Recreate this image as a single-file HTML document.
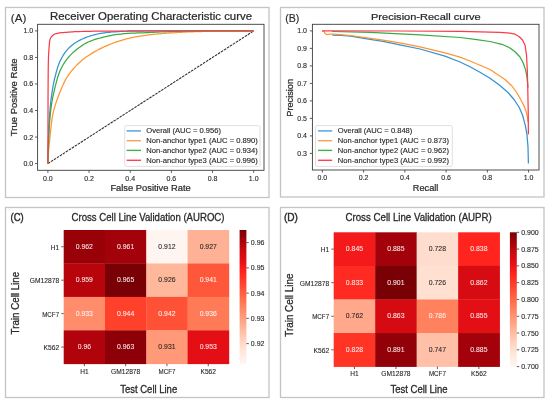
<!DOCTYPE html>
<html><head><meta charset="utf-8"><style>
html,body{margin:0;padding:0;background:#fff;}
body{width:550px;height:403px;overflow:hidden;}
svg{display:block;font-family:"Liberation Sans", sans-serif;will-change:transform;}
#w{width:550px;height:403px;}
</style></head><body><div id="w">
<svg width="550" height="403" viewBox="0 0 550 403">
<rect x="0" y="0" width="550" height="403" fill="#ffffff"/>
<rect x="5.50" y="7.50" width="263.50" height="190.00" fill="none" stroke="#c4c4c4" stroke-width="1.3" />
<rect x="280.50" y="7.50" width="263.50" height="189.50" fill="none" stroke="#c4c4c4" stroke-width="1.3" />
<rect x="5.50" y="207.50" width="263.50" height="190.00" fill="none" stroke="#c4c4c4" stroke-width="1.3" />
<rect x="280.50" y="207.50" width="263.50" height="190.00" fill="none" stroke="#c4c4c4" stroke-width="1.3" />
<text x="10.80" y="21.90" font-size="11.6" fill="#2a2a2a" text-anchor="start" stroke="#2a2a2a" stroke-width="0.15" >(A)</text>
<text x="50.00" y="19.90" font-size="10.2" fill="#2a2a2a" text-anchor="start" stroke="#2a2a2a" stroke-width="0.22" textLength="202.00" lengthAdjust="spacingAndGlyphs" >Receiver Operating Characteristic curve</text>
<line x1="35.00" y1="163.60" x2="37.60" y2="163.60" stroke="#333" stroke-width="0.8" />
<text x="33.20" y="166.10" font-size="7" fill="#2a2a2a" text-anchor="end" stroke="#2a2a2a" stroke-width="0.12" >0.0</text>
<line x1="47.90" y1="170.30" x2="47.90" y2="172.90" stroke="#333" stroke-width="0.8" />
<text x="47.90" y="180.60" font-size="7" fill="#2a2a2a" text-anchor="middle" stroke="#2a2a2a" stroke-width="0.12" >0.0</text>
<line x1="35.00" y1="137.06" x2="37.60" y2="137.06" stroke="#333" stroke-width="0.8" />
<text x="33.20" y="139.56" font-size="7" fill="#2a2a2a" text-anchor="end" stroke="#2a2a2a" stroke-width="0.12" >0.2</text>
<line x1="89.06" y1="170.30" x2="89.06" y2="172.90" stroke="#333" stroke-width="0.8" />
<text x="89.06" y="180.60" font-size="7" fill="#2a2a2a" text-anchor="middle" stroke="#2a2a2a" stroke-width="0.12" >0.2</text>
<line x1="35.00" y1="110.52" x2="37.60" y2="110.52" stroke="#333" stroke-width="0.8" />
<text x="33.20" y="113.02" font-size="7" fill="#2a2a2a" text-anchor="end" stroke="#2a2a2a" stroke-width="0.12" >0.4</text>
<line x1="130.22" y1="170.30" x2="130.22" y2="172.90" stroke="#333" stroke-width="0.8" />
<text x="130.22" y="180.60" font-size="7" fill="#2a2a2a" text-anchor="middle" stroke="#2a2a2a" stroke-width="0.12" >0.4</text>
<line x1="35.00" y1="83.98" x2="37.60" y2="83.98" stroke="#333" stroke-width="0.8" />
<text x="33.20" y="86.48" font-size="7" fill="#2a2a2a" text-anchor="end" stroke="#2a2a2a" stroke-width="0.12" >0.6</text>
<line x1="171.38" y1="170.30" x2="171.38" y2="172.90" stroke="#333" stroke-width="0.8" />
<text x="171.38" y="180.60" font-size="7" fill="#2a2a2a" text-anchor="middle" stroke="#2a2a2a" stroke-width="0.12" >0.6</text>
<line x1="35.00" y1="57.44" x2="37.60" y2="57.44" stroke="#333" stroke-width="0.8" />
<text x="33.20" y="59.94" font-size="7" fill="#2a2a2a" text-anchor="end" stroke="#2a2a2a" stroke-width="0.12" >0.8</text>
<line x1="212.54" y1="170.30" x2="212.54" y2="172.90" stroke="#333" stroke-width="0.8" />
<text x="212.54" y="180.60" font-size="7" fill="#2a2a2a" text-anchor="middle" stroke="#2a2a2a" stroke-width="0.12" >0.8</text>
<line x1="35.00" y1="30.90" x2="37.60" y2="30.90" stroke="#333" stroke-width="0.8" />
<text x="33.20" y="33.40" font-size="7" fill="#2a2a2a" text-anchor="end" stroke="#2a2a2a" stroke-width="0.12" >1.0</text>
<line x1="253.70" y1="170.30" x2="253.70" y2="172.90" stroke="#333" stroke-width="0.8" />
<text x="253.70" y="180.60" font-size="7" fill="#2a2a2a" text-anchor="middle" stroke="#2a2a2a" stroke-width="0.12" >1.0</text>
<text x="17.20" y="97.30" font-size="8.4" fill="#2a2a2a" text-anchor="middle" stroke="#2a2a2a" stroke-width="0.22" textLength="77.80" lengthAdjust="spacingAndGlyphs" transform="rotate(-90 17.20 97.30)" >True Positive Rate</text>
<text x="150.60" y="191.00" font-size="8.9" fill="#2a2a2a" text-anchor="middle" stroke="#2a2a2a" stroke-width="0.22" textLength="80.40" lengthAdjust="spacingAndGlyphs" >False Positive Rate</text>
<line x1="47.90" y1="163.60" x2="253.70" y2="30.90" stroke="#2a2a2a" stroke-width="1.05" stroke-dasharray="2.6 0.95"/>
<path d="M47.90,163.60 L48.03,157.07 L48.16,150.77 L48.29,144.99 L48.42,140.03 L48.55,136.15 L48.68,132.79 L48.81,129.67 L48.94,126.77 L49.07,124.09 L49.20,121.60 L49.33,119.29 L49.46,117.15 L49.59,115.17 L49.72,113.34 L49.85,111.63 L49.98,110.03 L50.11,108.53 L50.24,107.10 L50.37,105.73 L50.51,104.41 L50.64,103.16 L50.77,101.96 L50.90,100.81 L51.03,99.70 L51.16,98.64 L51.29,97.62 L51.42,96.63 L51.55,95.68 L51.68,94.76 L51.81,93.87 L51.94,93.00 L52.07,92.15 L52.20,91.31 L52.33,90.49 L52.46,89.68 L52.59,88.89 L52.72,88.12 L52.85,87.37 L52.98,86.63 L53.11,85.91 L53.24,85.20 L53.37,84.52 L53.50,83.85 L53.63,83.19 L53.76,82.55 L53.89,81.92 L54.02,81.31 L54.15,80.71 L54.28,80.12 L54.41,79.55 L54.54,78.98 L54.67,78.43 L54.80,77.89 L54.93,77.36 L55.06,76.84 L55.19,76.32 L55.32,75.81 L55.45,75.31 L55.58,74.80 L55.72,74.30 L55.85,73.81 L55.98,73.32 L56.11,72.83 L56.24,72.35 L56.37,71.87 L56.50,71.39 L56.63,70.93 L56.76,70.46 L56.89,70.01 L57.02,69.55 L57.15,69.11 L57.28,68.67 L57.41,68.23 L57.54,67.80 L57.67,67.38 L57.80,66.97 L57.93,66.56 L58.06,66.16 L58.19,65.77 L58.19,65.77 L59.83,61.51 L61.48,58.29 L63.12,55.45 L64.76,52.96 L66.40,50.79 L68.05,48.90 L69.69,47.25 L71.33,45.79 L72.98,44.49 L74.62,43.32 L76.26,42.26 L77.91,41.30 L79.55,40.40 L81.19,39.56 L82.83,38.78 L84.48,38.05 L86.12,37.38 L87.76,36.78 L89.41,36.23 L91.05,35.72 L92.69,35.23 L94.33,34.78 L95.98,34.37 L97.62,34.00 L99.26,33.67 L100.91,33.40 L102.55,33.15 L104.19,32.91 L105.84,32.69 L107.48,32.49 L109.12,32.30 L110.76,32.14 L112.41,31.99 L114.05,31.86 L115.69,31.76 L117.34,31.65 L118.98,31.56 L120.62,31.46 L122.26,31.38 L123.91,31.31 L125.55,31.25 L127.19,31.20 L128.84,31.17 L130.48,31.15 L132.12,31.13 L133.77,31.11 L135.41,31.09 L137.05,31.08 L138.69,31.06 L140.34,31.04 L141.98,31.03 L143.62,31.01 L145.27,31.00 L146.91,30.99 L148.55,30.98 L150.19,30.97 L151.84,30.96 L153.48,30.95 L155.12,30.94 L156.77,30.93 L158.41,30.93 L160.05,30.92 L161.70,30.91 L163.34,30.91 L164.98,30.91 L166.62,30.90 L168.27,30.90 L169.91,30.90 L171.55,30.90 L173.20,30.90 L174.84,30.90 L176.48,30.90 L178.12,30.90 L179.77,30.90 L181.41,30.90 L183.05,30.90 L184.70,30.90 L186.34,30.90 L187.98,30.90 L189.63,30.90 L191.27,30.90 L192.91,30.90 L194.55,30.90 L196.20,30.90 L197.84,30.90 L199.48,30.90 L201.13,30.90 L202.77,30.90 L204.41,30.90 L206.05,30.90 L207.70,30.90 L209.34,30.90 L210.98,30.90 L212.63,30.90 L214.27,30.90 L215.91,30.90 L217.56,30.90 L219.20,30.90 L220.84,30.90 L222.48,30.90 L224.13,30.90 L225.77,30.90 L227.41,30.90 L229.06,30.90 L230.70,30.90 L232.34,30.90 L233.98,30.90 L235.63,30.90 L237.27,30.90 L238.91,30.90 L240.56,30.90 L242.20,30.90 L243.84,30.90 L245.49,30.90 L247.13,30.90 L248.77,30.90 L250.41,30.90 L252.06,30.90 L253.70,30.90" fill="none" stroke="#3592cf" stroke-width="1.25" stroke-linejoin="round" stroke-linecap="butt" />
<path d="M47.90,163.60 L48.03,160.74 L48.16,158.02 L48.29,155.51 L48.42,153.24 L48.55,151.25 L48.68,149.58 L48.81,148.16 L48.94,146.90 L49.07,145.75 L49.20,144.65 L49.33,143.55 L49.46,142.37 L49.59,141.10 L49.72,139.78 L49.85,138.43 L49.98,137.06 L50.11,135.69 L50.24,134.33 L50.37,132.99 L50.51,131.69 L50.64,130.43 L50.77,129.24 L50.90,128.09 L51.03,126.94 L51.16,125.82 L51.29,124.71 L51.42,123.62 L51.55,122.57 L51.68,121.55 L51.81,120.58 L51.94,119.65 L52.07,118.77 L52.20,117.96 L52.33,117.20 L52.46,116.46 L52.59,115.75 L52.72,115.07 L52.85,114.41 L52.98,113.78 L53.11,113.17 L53.24,112.58 L53.37,112.01 L53.50,111.46 L53.63,110.93 L53.76,110.42 L53.89,109.92 L54.02,109.44 L54.15,108.96 L54.28,108.49 L54.41,108.02 L54.54,107.56 L54.67,107.11 L54.80,106.66 L54.93,106.22 L55.06,105.78 L55.19,105.35 L55.32,104.93 L55.45,104.51 L55.58,104.10 L55.72,103.69 L55.85,103.28 L55.98,102.88 L56.11,102.49 L56.24,102.10 L56.37,101.71 L56.50,101.33 L56.63,100.95 L56.76,100.58 L56.89,100.21 L57.02,99.84 L57.15,99.48 L57.28,99.12 L57.41,98.76 L57.54,98.41 L57.67,98.06 L57.80,97.71 L57.93,97.36 L58.06,97.02 L58.19,96.68 L58.19,96.68 L59.83,92.54 L61.48,88.51 L63.12,84.62 L64.76,81.14 L66.40,78.25 L68.05,75.68 L69.69,73.35 L71.33,71.22 L72.98,69.24 L74.62,67.37 L76.26,65.61 L77.91,63.96 L79.55,62.42 L81.19,60.96 L82.83,59.59 L84.48,58.30 L86.12,57.10 L87.76,55.98 L89.41,54.90 L91.05,53.86 L92.69,52.85 L94.33,51.87 L95.98,50.93 L97.62,50.02 L99.26,49.17 L100.91,48.35 L102.55,47.57 L104.19,46.80 L105.84,46.06 L107.48,45.35 L109.12,44.66 L110.76,44.00 L112.41,43.37 L114.05,42.77 L115.69,42.19 L117.34,41.63 L118.98,41.08 L120.62,40.55 L122.26,40.05 L123.91,39.56 L125.55,39.11 L127.19,38.68 L128.84,38.28 L130.48,37.91 L132.12,37.55 L133.77,37.22 L135.41,36.89 L137.05,36.59 L138.69,36.30 L140.34,36.03 L141.98,35.78 L143.62,35.54 L145.27,35.32 L146.91,35.12 L148.55,34.93 L150.19,34.74 L151.84,34.57 L153.48,34.40 L155.12,34.24 L156.77,34.09 L158.41,33.93 L160.05,33.78 L161.70,33.64 L163.34,33.50 L164.98,33.36 L166.62,33.23 L168.27,33.10 L169.91,32.99 L171.55,32.88 L173.20,32.78 L174.84,32.67 L176.48,32.58 L178.12,32.48 L179.77,32.39 L181.41,32.30 L183.05,32.21 L184.70,32.13 L186.34,32.06 L187.98,31.98 L189.63,31.92 L191.27,31.85 L192.91,31.80 L194.55,31.74 L196.20,31.68 L197.84,31.62 L199.48,31.57 L201.13,31.51 L202.77,31.46 L204.41,31.41 L206.05,31.36 L207.70,31.32 L209.34,31.27 L210.98,31.23 L212.63,31.19 L214.27,31.16 L215.91,31.12 L217.56,31.09 L219.20,31.07 L220.84,31.05 L222.48,31.04 L224.13,31.02 L225.77,31.01 L227.41,31.00 L229.06,30.99 L230.70,30.98 L232.34,30.97 L233.98,30.96 L235.63,30.95 L237.27,30.94 L238.91,30.93 L240.56,30.93 L242.20,30.92 L243.84,30.92 L245.49,30.91 L247.13,30.91 L248.77,30.90 L250.41,30.90 L252.06,30.90 L253.70,30.90" fill="none" stroke="#ff9535" stroke-width="1.25" stroke-linejoin="round" stroke-linecap="butt" />
<path d="M47.90,163.60 L48.03,158.68 L48.16,153.84 L48.29,149.21 L48.42,144.92 L48.55,141.11 L48.68,137.93 L48.81,135.34 L48.94,132.91 L49.07,130.62 L49.20,128.45 L49.33,126.39 L49.46,124.46 L49.59,122.62 L49.72,120.90 L49.85,119.27 L49.98,117.73 L50.11,116.28 L50.24,114.91 L50.37,113.62 L50.51,112.40 L50.64,111.24 L50.77,110.15 L50.90,109.11 L51.03,108.10 L51.16,107.13 L51.29,106.19 L51.42,105.29 L51.55,104.41 L51.68,103.56 L51.81,102.74 L51.94,101.94 L52.07,101.17 L52.20,100.43 L52.33,99.70 L52.46,99.00 L52.59,98.31 L52.72,97.64 L52.85,96.99 L52.98,96.35 L53.11,95.73 L53.24,95.12 L53.37,94.52 L53.50,93.93 L53.63,93.35 L53.76,92.78 L53.89,92.21 L54.02,91.64 L54.15,91.08 L54.28,90.52 L54.41,89.96 L54.54,89.41 L54.67,88.85 L54.80,88.30 L54.93,87.76 L55.06,87.22 L55.19,86.68 L55.32,86.14 L55.45,85.62 L55.58,85.09 L55.72,84.57 L55.85,84.06 L55.98,83.55 L56.11,83.04 L56.24,82.54 L56.37,82.05 L56.50,81.56 L56.63,81.08 L56.76,80.60 L56.89,80.13 L57.02,79.66 L57.15,79.20 L57.28,78.75 L57.41,78.30 L57.54,77.86 L57.67,77.42 L57.80,76.99 L57.93,76.57 L58.06,76.15 L58.19,75.75 L58.19,75.75 L59.83,71.23 L61.48,67.72 L63.12,64.72 L64.76,62.13 L66.40,59.85 L68.05,57.78 L69.69,55.89 L71.33,54.17 L72.98,52.59 L74.62,51.15 L76.26,49.81 L77.91,48.54 L79.55,47.31 L81.19,46.14 L82.83,45.04 L84.48,44.02 L86.12,43.08 L87.76,42.24 L89.41,41.50 L91.05,40.84 L92.69,40.24 L94.33,39.69 L95.98,39.18 L97.62,38.70 L99.26,38.25 L100.91,37.82 L102.55,37.39 L104.19,36.98 L105.84,36.59 L107.48,36.21 L109.12,35.86 L110.76,35.53 L112.41,35.23 L114.05,34.96 L115.69,34.72 L117.34,34.49 L118.98,34.27 L120.62,34.07 L122.26,33.88 L123.91,33.70 L125.55,33.55 L127.19,33.42 L128.84,33.31 L130.48,33.22 L132.12,33.15 L133.77,33.09 L135.41,33.03 L137.05,32.98 L138.69,32.93 L140.34,32.87 L141.98,32.82 L143.62,32.76 L145.27,32.69 L146.91,32.61 L148.55,32.54 L150.19,32.46 L151.84,32.38 L153.48,32.30 L155.12,32.22 L156.77,32.14 L158.41,32.07 L160.05,32.00 L161.70,31.94 L163.34,31.88 L164.98,31.81 L166.62,31.75 L168.27,31.68 L169.91,31.62 L171.55,31.56 L173.20,31.49 L174.84,31.43 L176.48,31.37 L178.12,31.32 L179.77,31.27 L181.41,31.22 L183.05,31.17 L184.70,31.13 L186.34,31.10 L187.98,31.07 L189.63,31.05 L191.27,31.04 L192.91,31.03 L194.55,31.02 L196.20,31.01 L197.84,31.01 L199.48,31.00 L201.13,31.00 L202.77,30.99 L204.41,30.98 L206.05,30.98 L207.70,30.97 L209.34,30.97 L210.98,30.96 L212.63,30.96 L214.27,30.95 L215.91,30.95 L217.56,30.94 L219.20,30.94 L220.84,30.94 L222.48,30.93 L224.13,30.93 L225.77,30.93 L227.41,30.92 L229.06,30.92 L230.70,30.92 L232.34,30.92 L233.98,30.91 L235.63,30.91 L237.27,30.91 L238.91,30.91 L240.56,30.91 L242.20,30.90 L243.84,30.90 L245.49,30.90 L247.13,30.90 L248.77,30.90 L250.41,30.90 L252.06,30.90 L253.70,30.90" fill="none" stroke="#38ab42" stroke-width="1.25" stroke-linejoin="round" stroke-linecap="butt" />
<path d="M47.90,163.60 L48.03,101.55 L48.16,77.10 L48.29,65.28 L48.42,59.21 L48.55,55.75 L48.68,53.26 L48.81,51.32 L48.94,49.55 L49.07,47.79 L49.20,46.12 L49.33,44.56 L49.46,43.15 L49.59,41.94 L49.72,40.95 L49.85,40.23 L49.98,39.75 L50.11,39.32 L50.24,38.94 L50.37,38.61 L50.51,38.30 L50.64,38.03 L50.77,37.79 L50.90,37.57 L51.03,37.37 L51.16,37.18 L51.29,37.01 L51.42,36.85 L51.55,36.69 L51.68,36.54 L51.81,36.39 L51.94,36.24 L52.07,36.10 L52.20,35.96 L52.33,35.82 L52.46,35.69 L52.59,35.57 L52.72,35.44 L52.85,35.32 L52.98,35.21 L53.11,35.10 L53.24,34.99 L53.37,34.89 L53.50,34.79 L53.63,34.70 L53.76,34.61 L53.89,34.52 L54.02,34.44 L54.15,34.36 L54.28,34.29 L54.41,34.23 L54.54,34.16 L54.67,34.11 L54.80,34.05 L54.93,34.01 L55.06,33.96 L55.19,33.92 L55.32,33.89 L55.45,33.85 L55.58,33.81 L55.72,33.78 L55.85,33.74 L55.98,33.71 L56.11,33.67 L56.24,33.64 L56.37,33.61 L56.50,33.58 L56.63,33.54 L56.76,33.51 L56.89,33.48 L57.02,33.46 L57.15,33.43 L57.28,33.40 L57.41,33.37 L57.54,33.34 L57.67,33.32 L57.80,33.29 L57.93,33.27 L58.06,33.24 L58.19,33.22 L58.19,33.22 L59.83,32.95 L61.48,32.74 L63.12,32.57 L64.76,32.42 L66.40,32.27 L68.05,32.14 L69.69,32.02 L71.33,31.91 L72.98,31.81 L74.62,31.72 L76.26,31.65 L77.91,31.59 L79.55,31.54 L81.19,31.50 L82.83,31.45 L84.48,31.41 L86.12,31.37 L87.76,31.33 L89.41,31.29 L91.05,31.26 L92.69,31.22 L94.33,31.19 L95.98,31.16 L97.62,31.14 L99.26,31.12 L100.91,31.09 L102.55,31.08 L104.19,31.06 L105.84,31.05 L107.48,31.04 L109.12,31.03 L110.76,31.03 L112.41,31.03 L114.05,31.02 L115.69,31.02 L117.34,31.02 L118.98,31.01 L120.62,31.01 L122.26,31.01 L123.91,31.00 L125.55,31.00 L127.19,31.00 L128.84,30.99 L130.48,30.99 L132.12,30.99 L133.77,30.99 L135.41,30.98 L137.05,30.98 L138.69,30.98 L140.34,30.98 L141.98,30.97 L143.62,30.97 L145.27,30.97 L146.91,30.97 L148.55,30.96 L150.19,30.96 L151.84,30.96 L153.48,30.96 L155.12,30.96 L156.77,30.95 L158.41,30.95 L160.05,30.95 L161.70,30.95 L163.34,30.95 L164.98,30.94 L166.62,30.94 L168.27,30.94 L169.91,30.94 L171.55,30.94 L173.20,30.93 L174.84,30.93 L176.48,30.93 L178.12,30.93 L179.77,30.93 L181.41,30.93 L183.05,30.93 L184.70,30.92 L186.34,30.92 L187.98,30.92 L189.63,30.92 L191.27,30.92 L192.91,30.92 L194.55,30.92 L196.20,30.92 L197.84,30.92 L199.48,30.91 L201.13,30.91 L202.77,30.91 L204.41,30.91 L206.05,30.91 L207.70,30.91 L209.34,30.91 L210.98,30.91 L212.63,30.91 L214.27,30.91 L215.91,30.91 L217.56,30.91 L219.20,30.91 L220.84,30.91 L222.48,30.90 L224.13,30.90 L225.77,30.90 L227.41,30.90 L229.06,30.90 L230.70,30.90 L232.34,30.90 L233.98,30.90 L235.63,30.90 L237.27,30.90 L238.91,30.90 L240.56,30.90 L242.20,30.90 L243.84,30.90 L245.49,30.90 L247.13,30.90 L248.77,30.90 L250.41,30.90 L252.06,30.90 L253.70,30.90" fill="none" stroke="#fa3c4a" stroke-width="1.25" stroke-linejoin="round" stroke-linecap="butt" />
<rect x="37.60" y="24.30" width="226.40" height="146.00" fill="none" stroke="#3c3c3c" stroke-width="0.9" />
<rect x="124.70" y="125.60" width="135.30" height="40.80" fill="rgba(255,255,255,0.8)" stroke="#d8d8d8" stroke-width="0.8" rx="1.5"/>
<line x1="126.60" y1="130.90" x2="141.00" y2="130.90" stroke="#4a9fd5" stroke-width="1.4" />
<text x="146.30" y="133.30" font-size="6.6" fill="#2a2a2a" text-anchor="start" stroke="#2a2a2a" stroke-width="0.12" textLength="74.70" lengthAdjust="spacingAndGlyphs" >Overall (AUC = 0.956)</text>
<line x1="126.60" y1="140.70" x2="141.00" y2="140.70" stroke="#ffa050" stroke-width="1.4" />
<text x="146.30" y="143.10" font-size="6.6" fill="#2a2a2a" text-anchor="start" stroke="#2a2a2a" stroke-width="0.12" textLength="111.50" lengthAdjust="spacingAndGlyphs" >Non-anchor type1 (AUC = 0.890)</text>
<line x1="126.60" y1="150.40" x2="141.00" y2="150.40" stroke="#40b048" stroke-width="1.4" />
<text x="146.30" y="152.80" font-size="6.6" fill="#2a2a2a" text-anchor="start" stroke="#2a2a2a" stroke-width="0.12" textLength="111.50" lengthAdjust="spacingAndGlyphs" >Non-anchor type2 (AUC = 0.934)</text>
<line x1="126.60" y1="160.30" x2="141.00" y2="160.30" stroke="#ff4050" stroke-width="1.4" />
<text x="146.30" y="162.70" font-size="6.6" fill="#2a2a2a" text-anchor="start" stroke="#2a2a2a" stroke-width="0.12" textLength="111.50" lengthAdjust="spacingAndGlyphs" >Non-anchor type3 (AUC = 0.996)</text>
<text x="285.20" y="21.60" font-size="10.6" fill="#2a2a2a" text-anchor="start" stroke="#2a2a2a" stroke-width="0.15" >(B)</text>
<text x="371.00" y="20.00" font-size="9.6" fill="#2a2a2a" text-anchor="start" stroke="#2a2a2a" stroke-width="0.22" textLength="109.70" lengthAdjust="spacingAndGlyphs" >Precision-Recall curve</text>
<line x1="309.80" y1="153.40" x2="312.40" y2="153.40" stroke="#333" stroke-width="0.8" />
<text x="307.00" y="155.90" font-size="7" fill="#2a2a2a" text-anchor="end" stroke="#2a2a2a" stroke-width="0.12" >0.3</text>
<line x1="309.80" y1="135.90" x2="312.40" y2="135.90" stroke="#333" stroke-width="0.8" />
<text x="307.00" y="138.40" font-size="7" fill="#2a2a2a" text-anchor="end" stroke="#2a2a2a" stroke-width="0.12" >0.4</text>
<line x1="309.80" y1="118.40" x2="312.40" y2="118.40" stroke="#333" stroke-width="0.8" />
<text x="307.00" y="120.90" font-size="7" fill="#2a2a2a" text-anchor="end" stroke="#2a2a2a" stroke-width="0.12" >0.5</text>
<line x1="309.80" y1="100.90" x2="312.40" y2="100.90" stroke="#333" stroke-width="0.8" />
<text x="307.00" y="103.40" font-size="7" fill="#2a2a2a" text-anchor="end" stroke="#2a2a2a" stroke-width="0.12" >0.6</text>
<line x1="309.80" y1="83.40" x2="312.40" y2="83.40" stroke="#333" stroke-width="0.8" />
<text x="307.00" y="85.90" font-size="7" fill="#2a2a2a" text-anchor="end" stroke="#2a2a2a" stroke-width="0.12" >0.7</text>
<line x1="309.80" y1="65.90" x2="312.40" y2="65.90" stroke="#333" stroke-width="0.8" />
<text x="307.00" y="68.40" font-size="7" fill="#2a2a2a" text-anchor="end" stroke="#2a2a2a" stroke-width="0.12" >0.8</text>
<line x1="309.80" y1="48.40" x2="312.40" y2="48.40" stroke="#333" stroke-width="0.8" />
<text x="307.00" y="50.90" font-size="7" fill="#2a2a2a" text-anchor="end" stroke="#2a2a2a" stroke-width="0.12" >0.9</text>
<line x1="309.80" y1="30.90" x2="312.40" y2="30.90" stroke="#333" stroke-width="0.8" />
<text x="307.00" y="33.40" font-size="7" fill="#2a2a2a" text-anchor="end" stroke="#2a2a2a" stroke-width="0.12" >1.0</text>
<line x1="322.40" y1="170.00" x2="322.40" y2="172.60" stroke="#333" stroke-width="0.8" />
<text x="322.40" y="180.40" font-size="7" fill="#2a2a2a" text-anchor="middle" stroke="#2a2a2a" stroke-width="0.12" >0.0</text>
<line x1="363.64" y1="170.00" x2="363.64" y2="172.60" stroke="#333" stroke-width="0.8" />
<text x="363.64" y="180.40" font-size="7" fill="#2a2a2a" text-anchor="middle" stroke="#2a2a2a" stroke-width="0.12" >0.2</text>
<line x1="404.88" y1="170.00" x2="404.88" y2="172.60" stroke="#333" stroke-width="0.8" />
<text x="404.88" y="180.40" font-size="7" fill="#2a2a2a" text-anchor="middle" stroke="#2a2a2a" stroke-width="0.12" >0.4</text>
<line x1="446.12" y1="170.00" x2="446.12" y2="172.60" stroke="#333" stroke-width="0.8" />
<text x="446.12" y="180.40" font-size="7" fill="#2a2a2a" text-anchor="middle" stroke="#2a2a2a" stroke-width="0.12" >0.6</text>
<line x1="487.36" y1="170.00" x2="487.36" y2="172.60" stroke="#333" stroke-width="0.8" />
<text x="487.36" y="180.40" font-size="7" fill="#2a2a2a" text-anchor="middle" stroke="#2a2a2a" stroke-width="0.12" >0.8</text>
<line x1="528.60" y1="170.00" x2="528.60" y2="172.60" stroke="#333" stroke-width="0.8" />
<text x="528.60" y="180.40" font-size="7" fill="#2a2a2a" text-anchor="middle" stroke="#2a2a2a" stroke-width="0.12" >1.0</text>
<text x="292.70" y="97.80" font-size="8.4" fill="#2a2a2a" text-anchor="middle" stroke="#2a2a2a" stroke-width="0.22" textLength="37.80" lengthAdjust="spacingAndGlyphs" transform="rotate(-90 292.70 97.80)" >Precision</text>
<text x="425.60" y="190.90" font-size="9.4" fill="#2a2a2a" text-anchor="middle" stroke="#2a2a2a" stroke-width="0.22" textLength="25.50" lengthAdjust="spacingAndGlyphs" >Recall</text>
<path d="M332.20,35.20 L341.00,35.50 L350.70,36.10 L363.80,38.30 L383.00,41.40 L400.00,44.80 L420.00,49.00 L445.00,56.20 L460.00,62.00 L470.00,66.80 L480.00,72.20 L490.00,78.20 L500.00,85.50 L508.00,92.50 L514.00,99.50 L519.00,107.00 L522.50,115.00 L525.20,124.80 L527.00,134.70 L528.00,147.00 L528.40,163.50" fill="none" stroke="#3592cf" stroke-width="1.25" stroke-linejoin="round" stroke-linecap="butt" />
<path d="M322.20,31.00 L324.20,31.40 L325.00,33.50 L327.00,34.60 L330.00,34.20 L332.70,34.10 L341.00,34.60 L350.70,35.50 L363.80,37.40 L383.00,40.20 L400.00,42.80 L420.00,46.80 L445.00,52.80 L460.00,57.20 L470.00,61.00 L490.00,69.50 L505.00,79.50 L512.00,86.00 L517.00,93.00 L521.00,100.00 L524.00,106.00 L526.30,112.00 L527.40,117.00 L528.00,121.80" fill="none" stroke="#ff9535" stroke-width="1.25" stroke-linejoin="round" stroke-linecap="butt" />
<path d="M332.20,31.50 L370.00,32.30 L420.00,34.90 L460.00,37.50 L475.00,39.30 L490.00,41.50 L502.00,44.30 L510.00,48.00 L515.00,51.80 L520.00,57.00 L523.00,62.50 L525.50,69.60 L527.00,77.00 L528.00,87.50" fill="none" stroke="#38ab42" stroke-width="1.25" stroke-linejoin="round" stroke-linecap="butt" />
<path d="M322.10,30.80 L400.00,31.00 L460.00,31.30 L500.00,32.30 L510.00,33.20 L515.00,34.20 L519.00,36.50 L522.50,40.00 L525.00,45.00 L526.50,55.00 L527.30,70.00 L527.80,90.00 L528.20,110.00 L528.40,134.20" fill="none" stroke="#fa3c4a" stroke-width="1.25" stroke-linejoin="round" stroke-linecap="butt" />
<rect x="312.40" y="24.30" width="226.60" height="145.70" fill="none" stroke="#3c3c3c" stroke-width="0.9" />
<rect x="315.50" y="125.60" width="136.80" height="40.80" fill="rgba(255,255,255,0.8)" stroke="#d8d8d8" stroke-width="0.8" rx="1.5"/>
<line x1="318.00" y1="130.90" x2="332.20" y2="130.90" stroke="#4a9fd5" stroke-width="1.4" />
<text x="337.80" y="133.30" font-size="6.6" fill="#2a2a2a" text-anchor="start" stroke="#2a2a2a" stroke-width="0.12" textLength="74.50" lengthAdjust="spacingAndGlyphs" >Overall (AUC = 0.848)</text>
<line x1="318.00" y1="140.70" x2="332.20" y2="140.70" stroke="#ffa050" stroke-width="1.4" />
<text x="337.80" y="143.10" font-size="6.6" fill="#2a2a2a" text-anchor="start" stroke="#2a2a2a" stroke-width="0.12" textLength="111.20" lengthAdjust="spacingAndGlyphs" >Non-anchor type1 (AUC = 0.873)</text>
<line x1="318.00" y1="150.40" x2="332.20" y2="150.40" stroke="#40b048" stroke-width="1.4" />
<text x="337.80" y="152.80" font-size="6.6" fill="#2a2a2a" text-anchor="start" stroke="#2a2a2a" stroke-width="0.12" textLength="111.20" lengthAdjust="spacingAndGlyphs" >Non-anchor type2 (AUC = 0.962)</text>
<line x1="318.00" y1="160.30" x2="332.20" y2="160.30" stroke="#ff4050" stroke-width="1.4" />
<text x="337.80" y="162.70" font-size="6.6" fill="#2a2a2a" text-anchor="start" stroke="#2a2a2a" stroke-width="0.12" textLength="111.20" lengthAdjust="spacingAndGlyphs" >Non-anchor type3 (AUC = 0.992)</text>
<rect x="63.70" y="230.00" width="41.60" height="33.75" fill="#990109" />
<text x="84.35" y="248.92" font-size="7.2" fill="#ffffff" text-anchor="middle" stroke="#ffffff" stroke-width="0.08" textLength="17.20" lengthAdjust="spacingAndGlyphs" fill-opacity="0.88" stroke-opacity="0.88">0.962</text>
<rect x="105.00" y="230.00" width="41.60" height="33.75" fill="#a4020a" />
<text x="125.65" y="248.92" font-size="7.2" fill="#ffffff" text-anchor="middle" stroke="#ffffff" stroke-width="0.08" textLength="17.20" lengthAdjust="spacingAndGlyphs" fill-opacity="0.88" stroke-opacity="0.88">0.961</text>
<rect x="146.30" y="230.00" width="41.60" height="33.75" fill="#fff5f0" />
<text x="166.95" y="248.92" font-size="7.2" fill="#262626" text-anchor="middle" stroke="#262626" stroke-width="0.08" textLength="17.20" lengthAdjust="spacingAndGlyphs" >0.912</text>
<rect x="187.60" y="230.00" width="41.60" height="33.75" fill="#ffb195" />
<text x="208.25" y="248.92" font-size="7.2" fill="#262626" text-anchor="middle" stroke="#262626" stroke-width="0.08" textLength="17.20" lengthAdjust="spacingAndGlyphs" >0.927</text>
<rect x="63.70" y="263.45" width="41.60" height="33.75" fill="#b8050c" />
<text x="84.35" y="282.38" font-size="7.2" fill="#ffffff" text-anchor="middle" stroke="#ffffff" stroke-width="0.08" textLength="17.20" lengthAdjust="spacingAndGlyphs" fill-opacity="0.88" stroke-opacity="0.88">0.959</text>
<rect x="105.00" y="263.45" width="41.60" height="33.75" fill="#790005" />
<text x="125.65" y="282.38" font-size="7.2" fill="#ffffff" text-anchor="middle" stroke="#ffffff" stroke-width="0.08" textLength="17.20" lengthAdjust="spacingAndGlyphs" fill-opacity="0.88" stroke-opacity="0.88">0.965</text>
<rect x="146.30" y="263.45" width="41.60" height="33.75" fill="#ffb89c" />
<text x="166.95" y="282.38" font-size="7.2" fill="#262626" text-anchor="middle" stroke="#262626" stroke-width="0.08" textLength="17.20" lengthAdjust="spacingAndGlyphs" >0.926</text>
<rect x="187.60" y="263.45" width="41.60" height="33.75" fill="#ff573a" />
<text x="208.25" y="282.38" font-size="7.2" fill="#ffffff" text-anchor="middle" stroke="#ffffff" stroke-width="0.08" textLength="17.20" lengthAdjust="spacingAndGlyphs" fill-opacity="0.88" stroke-opacity="0.88">0.941</text>
<rect x="63.70" y="296.90" width="41.60" height="33.75" fill="#ff8c6a" />
<text x="84.35" y="315.82" font-size="7.2" fill="#ffffff" text-anchor="middle" stroke="#ffffff" stroke-width="0.08" textLength="17.20" lengthAdjust="spacingAndGlyphs" fill-opacity="0.88" stroke-opacity="0.88">0.933</text>
<rect x="105.00" y="296.90" width="41.60" height="33.75" fill="#ff412c" />
<text x="125.65" y="315.82" font-size="7.2" fill="#ffffff" text-anchor="middle" stroke="#ffffff" stroke-width="0.08" textLength="17.20" lengthAdjust="spacingAndGlyphs" fill-opacity="0.88" stroke-opacity="0.88">0.944</text>
<rect x="146.30" y="296.90" width="41.60" height="33.75" fill="#ff5136" />
<text x="166.95" y="315.82" font-size="7.2" fill="#ffffff" text-anchor="middle" stroke="#ffffff" stroke-width="0.08" textLength="17.20" lengthAdjust="spacingAndGlyphs" fill-opacity="0.88" stroke-opacity="0.88">0.942</text>
<rect x="187.60" y="296.90" width="41.60" height="33.75" fill="#ff7b58" />
<text x="208.25" y="315.82" font-size="7.2" fill="#ffffff" text-anchor="middle" stroke="#ffffff" stroke-width="0.08" textLength="17.20" lengthAdjust="spacingAndGlyphs" fill-opacity="0.88" stroke-opacity="0.88">0.936</text>
<rect x="63.70" y="330.35" width="41.60" height="33.75" fill="#b0030b" />
<text x="84.35" y="349.28" font-size="7.2" fill="#ffffff" text-anchor="middle" stroke="#ffffff" stroke-width="0.08" textLength="13.20" lengthAdjust="spacingAndGlyphs" fill-opacity="0.88" stroke-opacity="0.88">0.96</text>
<rect x="105.00" y="330.35" width="41.60" height="33.75" fill="#8e0007" />
<text x="125.65" y="349.28" font-size="7.2" fill="#ffffff" text-anchor="middle" stroke="#ffffff" stroke-width="0.08" textLength="17.20" lengthAdjust="spacingAndGlyphs" fill-opacity="0.88" stroke-opacity="0.88">0.963</text>
<rect x="146.30" y="330.35" width="41.60" height="33.75" fill="#ff9978" />
<text x="166.95" y="349.28" font-size="7.2" fill="#262626" text-anchor="middle" stroke="#262626" stroke-width="0.08" textLength="17.20" lengthAdjust="spacingAndGlyphs" >0.931</text>
<rect x="187.60" y="330.35" width="41.60" height="33.75" fill="#e40e15" />
<text x="208.25" y="349.28" font-size="7.2" fill="#ffffff" text-anchor="middle" stroke="#ffffff" stroke-width="0.08" textLength="17.20" lengthAdjust="spacingAndGlyphs" fill-opacity="0.88" stroke-opacity="0.88">0.953</text>
<line x1="61.30" y1="246.72" x2="63.70" y2="246.72" stroke="#333" stroke-width="0.8" />
<text x="59.10" y="249.72" font-size="7.0" fill="#2a2a2a" text-anchor="end" stroke="#2a2a2a" stroke-width="0.12" textLength="8.40" lengthAdjust="spacingAndGlyphs" >H1</text>
<line x1="84.35" y1="363.80" x2="84.35" y2="366.20" stroke="#333" stroke-width="0.8" />
<text x="84.35" y="373.90" font-size="7.0" fill="#2a2a2a" text-anchor="middle" stroke="#2a2a2a" stroke-width="0.12" textLength="8.40" lengthAdjust="spacingAndGlyphs" >H1</text>
<line x1="61.30" y1="280.18" x2="63.70" y2="280.18" stroke="#333" stroke-width="0.8" />
<text x="59.10" y="283.18" font-size="7.0" fill="#2a2a2a" text-anchor="end" stroke="#2a2a2a" stroke-width="0.12" textLength="29.30" lengthAdjust="spacingAndGlyphs" >GM12878</text>
<line x1="125.65" y1="363.80" x2="125.65" y2="366.20" stroke="#333" stroke-width="0.8" />
<text x="125.65" y="373.90" font-size="7.0" fill="#2a2a2a" text-anchor="middle" stroke="#2a2a2a" stroke-width="0.12" textLength="29.30" lengthAdjust="spacingAndGlyphs" >GM12878</text>
<line x1="61.30" y1="313.62" x2="63.70" y2="313.62" stroke="#333" stroke-width="0.8" />
<text x="59.10" y="316.62" font-size="7.0" fill="#2a2a2a" text-anchor="end" stroke="#2a2a2a" stroke-width="0.12" textLength="16.90" lengthAdjust="spacingAndGlyphs" >MCF7</text>
<line x1="166.95" y1="363.80" x2="166.95" y2="366.20" stroke="#333" stroke-width="0.8" />
<text x="166.95" y="373.90" font-size="7.0" fill="#2a2a2a" text-anchor="middle" stroke="#2a2a2a" stroke-width="0.12" textLength="16.90" lengthAdjust="spacingAndGlyphs" >MCF7</text>
<line x1="61.30" y1="347.08" x2="63.70" y2="347.08" stroke="#333" stroke-width="0.8" />
<text x="59.10" y="350.08" font-size="7.0" fill="#2a2a2a" text-anchor="end" stroke="#2a2a2a" stroke-width="0.12" textLength="15.60" lengthAdjust="spacingAndGlyphs" >K562</text>
<line x1="208.25" y1="363.80" x2="208.25" y2="366.20" stroke="#333" stroke-width="0.8" />
<text x="208.25" y="373.90" font-size="7.0" fill="#2a2a2a" text-anchor="middle" stroke="#2a2a2a" stroke-width="0.12" textLength="15.60" lengthAdjust="spacingAndGlyphs" >K562</text>
<defs><linearGradient id="g63" x1="0" y1="0" x2="0" y2="1"><stop offset="0.000" stop-color="#790005"/><stop offset="0.050" stop-color="#940108"/><stop offset="0.100" stop-color="#b2040b"/><stop offset="0.150" stop-color="#c90910"/><stop offset="0.200" stop-color="#dc0c13"/><stop offset="0.250" stop-color="#ec1117"/><stop offset="0.300" stop-color="#fc201d"/><stop offset="0.350" stop-color="#ff3124"/><stop offset="0.400" stop-color="#ff422d"/><stop offset="0.450" stop-color="#ff573a"/><stop offset="0.500" stop-color="#ff6947"/><stop offset="0.550" stop-color="#ff7b58"/><stop offset="0.600" stop-color="#ff8b69"/><stop offset="0.650" stop-color="#ff9c7b"/><stop offset="0.700" stop-color="#ffac8f"/><stop offset="0.750" stop-color="#ffbca1"/><stop offset="0.800" stop-color="#ffcbb5"/><stop offset="0.850" stop-color="#ffdaca"/><stop offset="0.900" stop-color="#ffe6d8"/><stop offset="0.950" stop-color="#ffeee5"/><stop offset="1.000" stop-color="#fff5f0"/></linearGradient></defs>
<rect x="239.60" y="230.00" width="6.80" height="133.80" fill="url(#g63)" />
<line x1="246.40" y1="343.60" x2="248.80" y2="343.60" stroke="#333" stroke-width="0.8" />
<text x="250.80" y="346.10" font-size="7" fill="#2a2a2a" text-anchor="start" stroke="#2a2a2a" stroke-width="0.12" >0.92</text>
<line x1="246.40" y1="318.36" x2="248.80" y2="318.36" stroke="#333" stroke-width="0.8" />
<text x="250.80" y="320.86" font-size="7" fill="#2a2a2a" text-anchor="start" stroke="#2a2a2a" stroke-width="0.12" >0.93</text>
<line x1="246.40" y1="293.11" x2="248.80" y2="293.11" stroke="#333" stroke-width="0.8" />
<text x="250.80" y="295.61" font-size="7" fill="#2a2a2a" text-anchor="start" stroke="#2a2a2a" stroke-width="0.12" >0.94</text>
<line x1="246.40" y1="267.87" x2="248.80" y2="267.87" stroke="#333" stroke-width="0.8" />
<text x="250.80" y="270.37" font-size="7" fill="#2a2a2a" text-anchor="start" stroke="#2a2a2a" stroke-width="0.12" >0.95</text>
<line x1="246.40" y1="242.62" x2="248.80" y2="242.62" stroke="#333" stroke-width="0.8" />
<text x="250.80" y="245.12" font-size="7" fill="#2a2a2a" text-anchor="start" stroke="#2a2a2a" stroke-width="0.12" >0.96</text>
<text x="71.50" y="220.70" font-size="10.6" fill="#2a2a2a" text-anchor="start" stroke="#2a2a2a" stroke-width="0.3" textLength="153.00" lengthAdjust="spacingAndGlyphs" >Cross Cell Line Validation (AUROC)</text>
<text x="10.60" y="221.20" font-size="11.3" fill="#2a2a2a" text-anchor="start" stroke="#2a2a2a" stroke-width="0.4" textLength="13.20" lengthAdjust="spacingAndGlyphs" >(C)</text>
<text x="18.60" y="303.15" font-size="10.3" fill="#2a2a2a" text-anchor="middle" stroke="#2a2a2a" stroke-width="0.3" textLength="62.50" lengthAdjust="spacingAndGlyphs" transform="rotate(-90 18.60 303.15)" >Train Cell Line</text>
<text x="148.70" y="392.60" font-size="10" fill="#2a2a2a" text-anchor="middle" stroke="#2a2a2a" stroke-width="0.3" textLength="57.00" lengthAdjust="spacingAndGlyphs" >Test Cell Line</text>
<rect x="333.70" y="232.30" width="41.78" height="33.88" fill="#f4191a" />
<text x="354.44" y="251.29" font-size="7.2" fill="#ffffff" text-anchor="middle" stroke="#ffffff" stroke-width="0.08" textLength="17.20" lengthAdjust="spacingAndGlyphs" fill-opacity="0.88" stroke-opacity="0.88">0.845</text>
<rect x="375.18" y="232.30" width="41.78" height="33.88" fill="#a4020a" />
<text x="395.92" y="251.29" font-size="7.2" fill="#ffffff" text-anchor="middle" stroke="#ffffff" stroke-width="0.08" textLength="17.20" lengthAdjust="spacingAndGlyphs" fill-opacity="0.88" stroke-opacity="0.88">0.885</text>
<rect x="416.66" y="232.30" width="41.78" height="33.88" fill="#ffddce" />
<text x="437.40" y="251.29" font-size="7.2" fill="#262626" text-anchor="middle" stroke="#262626" stroke-width="0.08" textLength="17.20" lengthAdjust="spacingAndGlyphs" >0.728</text>
<rect x="458.14" y="232.30" width="41.78" height="33.88" fill="#ff241e" />
<text x="478.88" y="251.29" font-size="7.2" fill="#ffffff" text-anchor="middle" stroke="#ffffff" stroke-width="0.08" textLength="17.20" lengthAdjust="spacingAndGlyphs" fill-opacity="0.88" stroke-opacity="0.88">0.838</text>
<rect x="333.70" y="265.88" width="41.78" height="33.88" fill="#ff2b22" />
<text x="354.44" y="284.87" font-size="7.2" fill="#ffffff" text-anchor="middle" stroke="#ffffff" stroke-width="0.08" textLength="17.20" lengthAdjust="spacingAndGlyphs" fill-opacity="0.88" stroke-opacity="0.88">0.833</text>
<rect x="375.18" y="265.88" width="41.78" height="33.88" fill="#790005" />
<text x="395.92" y="284.87" font-size="7.2" fill="#ffffff" text-anchor="middle" stroke="#ffffff" stroke-width="0.08" textLength="17.20" lengthAdjust="spacingAndGlyphs" fill-opacity="0.88" stroke-opacity="0.88">0.901</text>
<rect x="416.66" y="265.88" width="41.78" height="33.88" fill="#ffe0d1" />
<text x="437.40" y="284.87" font-size="7.2" fill="#262626" text-anchor="middle" stroke="#262626" stroke-width="0.08" textLength="17.20" lengthAdjust="spacingAndGlyphs" >0.726</text>
<rect x="458.14" y="265.88" width="41.78" height="33.88" fill="#d70c12" />
<text x="478.88" y="284.87" font-size="7.2" fill="#ffffff" text-anchor="middle" stroke="#ffffff" stroke-width="0.08" textLength="17.20" lengthAdjust="spacingAndGlyphs" fill-opacity="0.88" stroke-opacity="0.88">0.862</text>
<rect x="333.70" y="299.46" width="41.78" height="33.88" fill="#ffa88b" />
<text x="354.44" y="318.45" font-size="7.2" fill="#262626" text-anchor="middle" stroke="#262626" stroke-width="0.08" textLength="17.20" lengthAdjust="spacingAndGlyphs" >0.762</text>
<rect x="375.18" y="299.46" width="41.78" height="33.88" fill="#d60b12" />
<text x="395.92" y="318.45" font-size="7.2" fill="#ffffff" text-anchor="middle" stroke="#ffffff" stroke-width="0.08" textLength="17.20" lengthAdjust="spacingAndGlyphs" fill-opacity="0.88" stroke-opacity="0.88">0.863</text>
<rect x="416.66" y="299.46" width="41.78" height="33.88" fill="#ff815e" />
<text x="437.40" y="318.45" font-size="7.2" fill="#ffffff" text-anchor="middle" stroke="#ffffff" stroke-width="0.08" textLength="17.20" lengthAdjust="spacingAndGlyphs" fill-opacity="0.88" stroke-opacity="0.88">0.786</text>
<rect x="458.14" y="299.46" width="41.78" height="33.88" fill="#e40e15" />
<text x="478.88" y="318.45" font-size="7.2" fill="#ffffff" text-anchor="middle" stroke="#ffffff" stroke-width="0.08" textLength="17.20" lengthAdjust="spacingAndGlyphs" fill-opacity="0.88" stroke-opacity="0.88">0.855</text>
<rect x="333.70" y="333.04" width="41.78" height="33.88" fill="#ff3425" />
<text x="354.44" y="352.03" font-size="7.2" fill="#ffffff" text-anchor="middle" stroke="#ffffff" stroke-width="0.08" textLength="17.20" lengthAdjust="spacingAndGlyphs" fill-opacity="0.88" stroke-opacity="0.88">0.828</text>
<rect x="375.18" y="333.04" width="41.78" height="33.88" fill="#920108" />
<text x="395.92" y="352.03" font-size="7.2" fill="#ffffff" text-anchor="middle" stroke="#ffffff" stroke-width="0.08" textLength="17.20" lengthAdjust="spacingAndGlyphs" fill-opacity="0.88" stroke-opacity="0.88">0.891</text>
<rect x="416.66" y="333.04" width="41.78" height="33.88" fill="#ffc0a7" />
<text x="437.40" y="352.03" font-size="7.2" fill="#262626" text-anchor="middle" stroke="#262626" stroke-width="0.08" textLength="17.20" lengthAdjust="spacingAndGlyphs" >0.747</text>
<rect x="458.14" y="333.04" width="41.78" height="33.88" fill="#a4020a" />
<text x="478.88" y="352.03" font-size="7.2" fill="#ffffff" text-anchor="middle" stroke="#ffffff" stroke-width="0.08" textLength="17.20" lengthAdjust="spacingAndGlyphs" fill-opacity="0.88" stroke-opacity="0.88">0.885</text>
<line x1="331.30" y1="249.09" x2="333.70" y2="249.09" stroke="#333" stroke-width="0.8" />
<text x="329.10" y="252.09" font-size="7.0" fill="#2a2a2a" text-anchor="end" stroke="#2a2a2a" stroke-width="0.12" textLength="8.40" lengthAdjust="spacingAndGlyphs" >H1</text>
<line x1="354.44" y1="366.62" x2="354.44" y2="369.02" stroke="#333" stroke-width="0.8" />
<text x="354.44" y="376.20" font-size="7.0" fill="#2a2a2a" text-anchor="middle" stroke="#2a2a2a" stroke-width="0.12" textLength="8.40" lengthAdjust="spacingAndGlyphs" >H1</text>
<line x1="331.30" y1="282.67" x2="333.70" y2="282.67" stroke="#333" stroke-width="0.8" />
<text x="329.10" y="285.67" font-size="7.0" fill="#2a2a2a" text-anchor="end" stroke="#2a2a2a" stroke-width="0.12" textLength="29.30" lengthAdjust="spacingAndGlyphs" >GM12878</text>
<line x1="395.92" y1="366.62" x2="395.92" y2="369.02" stroke="#333" stroke-width="0.8" />
<text x="395.92" y="376.20" font-size="7.0" fill="#2a2a2a" text-anchor="middle" stroke="#2a2a2a" stroke-width="0.12" textLength="29.30" lengthAdjust="spacingAndGlyphs" >GM12878</text>
<line x1="331.30" y1="316.25" x2="333.70" y2="316.25" stroke="#333" stroke-width="0.8" />
<text x="329.10" y="319.25" font-size="7.0" fill="#2a2a2a" text-anchor="end" stroke="#2a2a2a" stroke-width="0.12" textLength="16.90" lengthAdjust="spacingAndGlyphs" >MCF7</text>
<line x1="437.40" y1="366.62" x2="437.40" y2="369.02" stroke="#333" stroke-width="0.8" />
<text x="437.40" y="376.20" font-size="7.0" fill="#2a2a2a" text-anchor="middle" stroke="#2a2a2a" stroke-width="0.12" textLength="16.90" lengthAdjust="spacingAndGlyphs" >MCF7</text>
<line x1="331.30" y1="349.83" x2="333.70" y2="349.83" stroke="#333" stroke-width="0.8" />
<text x="329.10" y="352.83" font-size="7.0" fill="#2a2a2a" text-anchor="end" stroke="#2a2a2a" stroke-width="0.12" textLength="15.60" lengthAdjust="spacingAndGlyphs" >K562</text>
<line x1="478.88" y1="366.62" x2="478.88" y2="369.02" stroke="#333" stroke-width="0.8" />
<text x="478.88" y="376.20" font-size="7.0" fill="#2a2a2a" text-anchor="middle" stroke="#2a2a2a" stroke-width="0.12" textLength="15.60" lengthAdjust="spacingAndGlyphs" >K562</text>
<defs><linearGradient id="g333" x1="0" y1="0" x2="0" y2="1"><stop offset="0.000" stop-color="#790005"/><stop offset="0.050" stop-color="#940108"/><stop offset="0.100" stop-color="#b2040b"/><stop offset="0.150" stop-color="#c90910"/><stop offset="0.200" stop-color="#dc0c13"/><stop offset="0.250" stop-color="#ec1117"/><stop offset="0.300" stop-color="#fc201d"/><stop offset="0.350" stop-color="#ff3124"/><stop offset="0.400" stop-color="#ff422d"/><stop offset="0.450" stop-color="#ff573a"/><stop offset="0.500" stop-color="#ff6947"/><stop offset="0.550" stop-color="#ff7b58"/><stop offset="0.600" stop-color="#ff8b69"/><stop offset="0.650" stop-color="#ff9c7b"/><stop offset="0.700" stop-color="#ffac8f"/><stop offset="0.750" stop-color="#ffbca1"/><stop offset="0.800" stop-color="#ffcbb5"/><stop offset="0.850" stop-color="#ffdaca"/><stop offset="0.900" stop-color="#ffe6d8"/><stop offset="0.950" stop-color="#ffeee5"/><stop offset="1.000" stop-color="#fff5f0"/></linearGradient></defs>
<rect x="509.90" y="232.30" width="6.90" height="134.32" fill="url(#g333)" />
<line x1="516.80" y1="366.62" x2="519.20" y2="366.62" stroke="#333" stroke-width="0.8" />
<text x="521.20" y="369.12" font-size="7" fill="#2a2a2a" text-anchor="start" stroke="#2a2a2a" stroke-width="0.12" >0.700</text>
<line x1="516.80" y1="349.83" x2="519.20" y2="349.83" stroke="#333" stroke-width="0.8" />
<text x="521.20" y="352.33" font-size="7" fill="#2a2a2a" text-anchor="start" stroke="#2a2a2a" stroke-width="0.12" >0.725</text>
<line x1="516.80" y1="333.04" x2="519.20" y2="333.04" stroke="#333" stroke-width="0.8" />
<text x="521.20" y="335.54" font-size="7" fill="#2a2a2a" text-anchor="start" stroke="#2a2a2a" stroke-width="0.12" >0.750</text>
<line x1="516.80" y1="316.25" x2="519.20" y2="316.25" stroke="#333" stroke-width="0.8" />
<text x="521.20" y="318.75" font-size="7" fill="#2a2a2a" text-anchor="start" stroke="#2a2a2a" stroke-width="0.12" >0.775</text>
<line x1="516.80" y1="299.46" x2="519.20" y2="299.46" stroke="#333" stroke-width="0.8" />
<text x="521.20" y="301.96" font-size="7" fill="#2a2a2a" text-anchor="start" stroke="#2a2a2a" stroke-width="0.12" >0.800</text>
<line x1="516.80" y1="282.67" x2="519.20" y2="282.67" stroke="#333" stroke-width="0.8" />
<text x="521.20" y="285.17" font-size="7" fill="#2a2a2a" text-anchor="start" stroke="#2a2a2a" stroke-width="0.12" >0.825</text>
<line x1="516.80" y1="265.88" x2="519.20" y2="265.88" stroke="#333" stroke-width="0.8" />
<text x="521.20" y="268.38" font-size="7" fill="#2a2a2a" text-anchor="start" stroke="#2a2a2a" stroke-width="0.12" >0.850</text>
<line x1="516.80" y1="249.09" x2="519.20" y2="249.09" stroke="#333" stroke-width="0.8" />
<text x="521.20" y="251.59" font-size="7" fill="#2a2a2a" text-anchor="start" stroke="#2a2a2a" stroke-width="0.12" >0.875</text>
<line x1="516.80" y1="232.30" x2="519.20" y2="232.30" stroke="#333" stroke-width="0.8" />
<text x="521.20" y="234.80" font-size="7" fill="#2a2a2a" text-anchor="start" stroke="#2a2a2a" stroke-width="0.12" >0.900</text>
<text x="345.50" y="221.10" font-size="10.6" fill="#2a2a2a" text-anchor="start" stroke="#2a2a2a" stroke-width="0.3" textLength="146.30" lengthAdjust="spacingAndGlyphs" >Cross Cell Line Validation (AUPR)</text>
<text x="283.90" y="221.40" font-size="11.3" fill="#2a2a2a" text-anchor="start" stroke="#2a2a2a" stroke-width="0.4" textLength="14.00" lengthAdjust="spacingAndGlyphs" >(D)</text>
<text x="292.70" y="305.15" font-size="10.3" fill="#2a2a2a" text-anchor="middle" stroke="#2a2a2a" stroke-width="0.3" textLength="63.10" lengthAdjust="spacingAndGlyphs" transform="rotate(-90 292.70 305.15)" >Train Cell Line</text>
<text x="419.00" y="392.50" font-size="10" fill="#2a2a2a" text-anchor="middle" stroke="#2a2a2a" stroke-width="0.3" textLength="57.10" lengthAdjust="spacingAndGlyphs" >Test Cell Line</text>
</svg></div>
</body></html>
